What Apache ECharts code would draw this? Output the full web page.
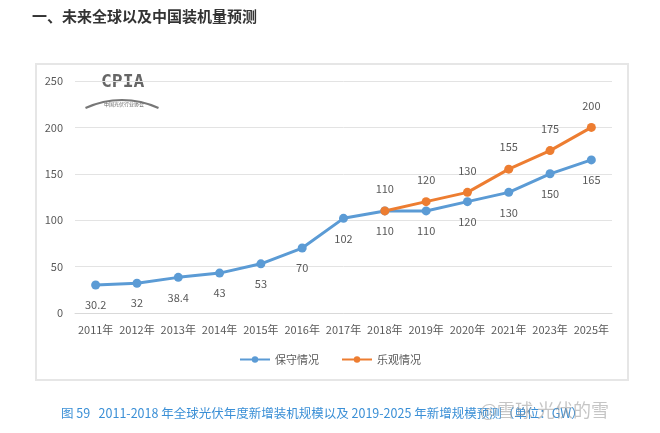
<!DOCTYPE html>
<html>
<head>
<meta charset="utf-8">
<script src="https://cdn.jsdelivr.net/npm/echarts@6/dist/echarts.min.js"></script>
<style>
  html, body { margin: 0; padding: 0; background: #fff; }
  #main { width: 660px; height: 433px; }
</style>
</head>
<body>
<div id="main"></div>
<script>
// Chart data
const categories = ["2011年", "2012年", "2013年", "2014年", "2015年", "2016年", "2017年",
  "2018年", "2019年", "2020年", "2021年", "2023年", "2025年"];
const conservative = [30.2, 32, 38.4, 43, 53, 70, 102, 110, 110, 120, 130, 150, 165];
const optimistic = [null, null, null, null, null, null, null, 110, 120, 130, 155, 175, 200];
const yTicks = [0, 50, 100, 150, 200, 250];

const font = "'Noto Sans CJK SC', 'Noto Sans', sans-serif";
let myChart = echarts.init(document.getElementById("main"));

// flat arc under the CPIA logo
const arcR = 87, arcHalf = Math.asin(36.5 / arcR);

let options = {
  backgroundColor: "#fff",
  textStyle: { fontFamily: font },
  animation: false,
  graphic: [
    // page title
    { type: "text", left: 32, top: 9,
      style: { text: "一、未来全球以及中国装机量预测", font: "bold 15px " + font, fill: "#333" } },
    // chart frame
    { type: "rect", shape: { x: 36, y: 64, width: 592, height: 316 },
      style: { fill: "none", stroke: "#e6e6e6", lineWidth: 2 }, z: -1 },
    // CPIA logo
    { type: "text", left: 101, top: 73,
      style: { text: "CPIA", font: "bold 18px 'DejaVu Sans Mono', monospace", fill: "#666" } },
    { type: "arc", shape: { cx: 122, cy: 100 + arcR, r: arcR,
        startAngle: -Math.PI / 2 - arcHalf, endAngle: -Math.PI / 2 + arcHalf },
      style: { stroke: "#777", lineWidth: 2, fill: "none" } },
    { type: "text", left: 104, top: 102,
      style: { text: "中国光伏行业协会", font: "5px " + font, fill: "#666" } },
    // caption
    { type: "text", left: 61, top: 407,
      style: { text: "图 59   2011-2018 年全球光伏年度新增装机规模以及 2019-2025 年新增规模预测（单位：GW）",
        font: "12.5px " + font, fill: "#3a8fd6" } },
    // watermark
    { type: "text", left: 480, top: 401,
      style: { text: "@雪球 光伏的雪", font: "18px " + font, fill: "rgba(150,150,150,0.55)" } }
  ],
  legend: {
    bottom: 63,
    left: "center",
    itemWidth: 30,
    itemHeight: 8,
    itemGap: 22,
    textStyle: { color: "#595959", fontSize: 11 },
    data: ["保守情况", "乐观情况"]
  },
  grid: { left: 75, right: 48, top: 81, bottom: 120 },
  xAxis: {
    type: "category",
    data: categories,
    axisLine: { lineStyle: { color: "#d9d9d9" } },
    axisTick: { show: false },
    axisLabel: { color: "#595959", fontSize: 11, margin: 11, interval: 0 }
  },
  yAxis: {
    type: "value",
    min: yTicks[0],
    max: yTicks[yTicks.length - 1],
    interval: 50,
    axisLine: { show: false },
    axisTick: { show: false },
    axisLabel: { color: "#595959", fontSize: 11, margin: 12 },
    splitLine: { lineStyle: { color: "#e3e3e3" } }
  },
  series: [
    {
      name: "保守情况",
      type: "line",
      data: conservative,
      color: "#5b9bd5",
      symbol: "circle",
      symbolSize: 9,
      lineStyle: { width: 3 },
      label: { show: true, position: "bottom", distance: 10, color: "#595959", fontSize: 11 }
    },
    {
      name: "乐观情况",
      type: "line",
      data: optimistic,
      color: "#ed7d31",
      symbol: "circle",
      symbolSize: 9,
      lineStyle: { width: 3 },
      label: { show: true, position: "top", distance: 12, color: "#595959", fontSize: 11 }
    }
  ]
};
myChart.setOption(options);
</script>
</body>
</html>
